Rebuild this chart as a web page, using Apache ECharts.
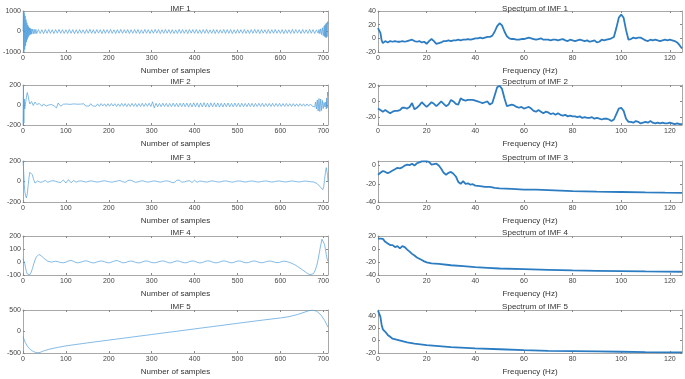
<!DOCTYPE html>
<html>
<head>
<meta charset="utf-8">
<script src="https://cdn.jsdelivr.net/npm/echarts@6/dist/echarts.min.js"></script>
<style>
  html, body { margin: 0; padding: 0; background: #fff; }
  #chart { width: 685px; height: 379px; }
</style>
</head>
<body>
<div id="chart"></div>
<script>
// ---- data ----
// left column: IMF signals (sample index, amplitude)
var imf1Head = [[0,0],[1,950],[2,-1000],[3,920],[4,-880],[5,760],[6,-700],[7,580],[8,-520],[9,430],[10,-390],[11,320],[12,-290],[13,240],[14,-210],[15,180],[16,-160],[17,150],[18,-140],[19,130],[20,-125],[22,120],[24,-115],[26,110],[28,-105],[30,100],[32,-100]]
var imf1Body = [95,-100,85,-105,98,-88,102,-92,86,-100, 94,-80,100,-90,88,-96,82,-94,100,-86, 92,-104,84,-96,98,-88,80,-100,94,-84,
  104,-90,84,-98,94,-80,88,-100,98,-92, 84,-88,100,-94,80,-98,90,-84,104,-92, 88,-80,96,-100,84,-90,98,-88,94,-104,
  80,-94,100,-84,90,-98,88,-92,100,-80, 94,-104,84,-90,98,-84,92,-100,88,-94, 80,-98,104,-88,90,-92,84,-100,98,-80,
  94,-90,100,-88,84,-98,92,-84,104,-94, 80,-90,98,-100,88,-92,84,-80,100,-98, 90,-88,94,-104,84,-92,98,-84,88,-94,
  100,-90,80,-98,92,-88,104,-84,90,-100, 94,-80,84,-98,98,-92,88,-90,100,-84, 80,-94,92,-104,90,-88,84,-98,100,-92,
  94,-80,88,-100,98,-90,84,-94,104,-88, 92,-98,80,-84]
var imf1Tail = [[690,100],[692,-110],[694,130],[696,-150],[698,180],[700,-210],[702,260],[703,-240],[704,320],[705,-280],[706,380],[707,-300],[708,420],[709,-250],[710,480],[711,350]]

var imf2Head = [[0,-200],[1,200],[2,-180],[3,60],[4,-40],[6,20],[8,80],[10,125],[12,90],[14,40],[16,10],[18,25],[20,35],[22,15],[24,-5],[26,10],[28,30],[30,25],[32,5],[34,-10],[36,0],[38,15],[40,12],[42,-5],[44,-12],[46,0],[48,10],[50,5],[52,-8],[54,-10],[56,2],[58,8],[60,0],[62,-8],[64,-5],[66,5],[68,8],[70,0],[72,-6],[74,-8],[76,-15],[78,-30],[80,-10],[82,20],[84,25],[86,5],[88,-12],[90,-5]]
var imf2Body = [8,-6,10,-8,6,-9,11,-6,8,-10, 9,-8,12,-10,8,-11,13,-9,10,-12, 11,-13,14,-10,12,-14,13,-12,15,-11,
  13,-15,12,-14,16,-13,14,-16,13,-15, 16,-14,15,-17,14,-16,17,-15,16,-14, 18,-16,32,-28,17,-18,16,-17,18,-16,
  17,-18,16,-17,19,-16,17,-19,18,-17, 20,-18,19,-21,18,-20,22,-19,21,-22, 21,-20,23,-21,20,-22,21,-20,22,-19,
  20,-21,18,-20,19,-18,20,-19,17,-18, 19,-17,18,-19,17,-18,16,-17,18,-16, 17,-18,16,-15,17,-16,18,-17,15,-16,
  16,-15,17,-16,15,-14,16,-15,14,-15, 15,-14,13,-15,14,-13,12,-14,13,-12, 12,-13,11,-12,10,-11,9]
var imf2Tail = [[680,-20],[682,30],[684,-40],[686,50],[688,-60],[690,65],[692,-65],[694,60],[696,-55],[698,45],[700,-35],[702,25],[704,-20],[706,30],[707,-40],[708,70],[709,-30],[710,130],[711,90]]

var imf3Head = [[0,200],[1,150],[2,60],[3,-30],[4,-90],[6,-140],[8,-160],[10,-120],[12,-40],[14,40],[16,90],[18,105],[20,95],[22,65],[24,30],[26,5],[28,-15],[30,-20],[32,-10],[34,5],[36,12],[38,5],[40,-8],[43,-12],[46,-2],[49,8],[52,10],[55,2],[58,-8],[61,-6]]
var imf3Body = [4,8,2,-6,-10,15,-15,18,-12,10, -6,4,6,-2,-5,3,6,0,-5,-3, 4,7,2,-4,-6,0,5,10,-2,-8,
  8,14,4,-8,-4,5,6,-2,-6,0, 5,4,-3,-6,2,6,3,-8,-12,10, 14,-6,-4,4,8,-10,12,-8,4,2,
  -4,-5,3,6,1,-5,-4,3,6,2, -4,-6,2,5,4,-3,-5,1,5,3, -3,-5,0,4,5,-2,-5,-2,4,5, 0,-4,-3,3,5,1,-3,-4,2,4, 2,-2]
var imf3Tail = [[674,0],[678,-5],[682,-12],[686,-22],[690,-38],[694,-58],[697,-75],[699,-80],[701,-50],[703,20],[705,90],[707,135],[708,145],[709,120],[710,60],[711,0]]

var imf4Head = [[0,25],[2,20],[4,-10],[6,-45],[8,-75],[10,-92],[13,-100],[16,-98],[19,-80],[22,-50],[25,-15],[28,15],[31,38],[34,52],[37,58],[40,55],[43,47],[46,36],[50,24],[54,14],[58,6],[62,1],[66,-1]]
var imf4Body = [2,6,2,-4,-6,-1,8,12,5,-5, -6,0,7,9,2,-5,-7,0,6,8, 2,-5,-6,1,9,11,3,-6,-5,2, 7,6,-2,-7,-5,3,8,6,-2,-6,
  -5,2,7,8,1,-6,-6,2,8,7, -1,-6,-5,3,8,6,-2,-7,-4,4, 9,7,-1,-6,-5,2,8,7,0,-6, -5,3,8,6,-2,-6,-4,4,8,5,
  -2,-6,-3,4,7,5,-1,-5,-3,4, 6]
var imf4Tail = [[616,2],[622,-4],[628,-12],[634,-22],[640,-34],[646,-48],[652,-62],[658,-76],[664,-90],[669,-98],[673,-100],[677,-90],[681,-65],[685,-25],[688,20],[691,75],[694,130],[697,175],[699,185],[701,170],[703,135],[705,95],[707,55],[709,25],[711,5]]

var imf5 = [[0,-120],[5,-250],[10,-340],[15,-400],[20,-440],[25,-470],[30,-488],[35,-495],[40,-485],[45,-465],[50,-445],[60,-415],[70,-392],[80,-372],[100,-335],[150,-265],[200,-200],[250,-135],[300,-70],[350,-5],[400,60],[450,125],[500,190],[550,255],[600,315],[620,345],[640,395],[655,445],[665,480],[675,500],[685,470],[695,380],[703,260],[711,100]]

// body sampling grid: first sample and spacing
var bodyStart = [36, 94, 64, 70]
var bodyStep = [4, 4, 6, 6]

// right column: spectra (Hz, dB)
var spec1 = [[0,15],[0.5,14],[1,8],[1.5,-3],[2,-7],[3,-4],[4,-6],[5,-4],[6,-5],[7,-4],[8,-5],[9,-5],[10,-4],[11,-5],[12,-4],[13,-3],[14,-2],[15,-4],[16,-5],[17,-4],[18,-6],[19,-5],[20,-8],[21,-4],[22,-1],[23,-4],[24,-8],[25,-7],[26,-6],[27,-4],[28,-4],[29,-3],[30,-4],[31,-3],[32,-3],[33,-2],[34,-3],[35,-2],[36,-2],[37,-1],[38,-2],[39,-1],[40,0],[41,0],[42,1],[43,0],[44,1],[45,2],[46,2],[47,4],[48,10],[49,18],[50,22],[51,19],[52,10],[53,3],[54,0],[55,-1],[56,-1],[57,-2],[58,-2],[59,-1],[60,-1],[61,0],[62,1],[63,0],[64,-1],[65,-2],[66,-1],[67,0],[68,-2],[69,-2],[70,-2],[71,-3],[72,-2],[73,-2],[74,-3],[75,-2],[76,-1],[77,-3],[78,-4],[79,-2],[80,-3],[81,-4],[82,-3],[83,-2],[84,-3],[85,-4],[86,-3],[87,-5],[88,-4],[89,-3],[90,-6],[91,-5],[92,-2],[93,-3],[94,-2],[95,-1],[96,0],[97,2],[98,15],[99,30],[100,35],[101,30],[102,12],[103,-2],[104,-1],[105,1],[106,0],[107,1],[108,1],[109,-1],[110,-3],[111,-4],[112,-2],[113,-3],[114,-2],[115,-3],[116,-4],[117,-3],[118,-2],[119,-3],[120,-2],[121,-3],[122,-4],[123,-6],[124,-10],[125,-15]]
var spec2 = [[0,-9],[1,-11],[2,-13],[3,-11],[4,-13],[5,-15],[6,-13],[7,-12],[8,-12],[9,-11],[10,-8],[11,-8],[12,-9],[13,-7],[14,-2],[15,-10],[16,-8],[17,-5],[18,-1],[19,-4],[20,-7],[21,-4],[22,-1],[23,-3],[24,-6],[25,-3],[26,0],[27,-3],[28,-6],[29,-4],[30,2],[31,0],[32,-3],[33,-4],[34,4],[35,2],[36,1],[37,2],[38,2],[39,2],[40,1],[41,0],[42,-1],[43,-2],[44,-1],[45,0],[46,-4],[47,-2],[48,8],[49,18],[50,20],[51,16],[52,4],[53,-6],[54,-5],[55,-4],[56,-5],[57,-7],[58,-8],[59,-7],[60,-9],[61,-8],[62,-7],[63,-9],[64,-12],[65,-13],[66,-11],[67,-13],[68,-15],[69,-13],[70,-14],[71,-16],[72,-15],[73,-17],[74,-15],[75,-17],[76,-18],[77,-17],[78,-19],[79,-18],[80,-19],[81,-19],[82,-20],[83,-19],[84,-21],[85,-20],[86,-21],[87,-21],[88,-20],[89,-22],[90,-21],[91,-22],[92,-23],[93,-22],[94,-22],[95,-23],[96,-25],[97,-23],[98,-16],[99,-9],[100,-8],[101,-12],[102,-22],[103,-26],[104,-26],[105,-27],[106,-25],[107,-26],[108,-28],[109,-27],[110,-26],[111,-27],[112,-25],[113,-27],[114,-28],[115,-27],[116,-28],[117,-27],[118,-28],[119,-28],[120,-27],[121,-28],[122,-29],[123,-28],[124,-29],[125,-29]]
var spec3 = [[0,-10],[1,-8],[2,-6],[3,-7],[4,-8.5],[5,-7],[6,-5.5],[7,-4],[8,-2.5],[9,-3],[10,-2],[11,0],[12,1],[13,0.5],[14,2],[15,0],[16,2.5],[17,3.5],[18,4.5],[19,4.5],[20,4.5],[21,4],[22,1],[23,1.5],[24,2],[25,0],[26,-3.5],[27,-8],[28,-10],[29,-8],[30,-7],[31,-9],[32,-12],[33,-18],[34,-20],[35,-17],[36,-20],[37,-19.5],[38,-21],[39,-20.5],[40,-22],[42,-22.5],[44,-23.5],[46,-23.5],[48,-24.5],[50,-25],[55,-25.5],[60,-26.5],[65,-26.5],[70,-27],[75,-27.5],[80,-28],[85,-28.3],[90,-28.7],[95,-28.8],[100,-29],[110,-29.5],[118,-29.8],[125,-30]]
var spec4 = [[0,16],[1,16],[2,15.5],[3,11],[4,8.5],[5,6],[6,6],[7,3],[8,4.5],[9,1],[10,4.5],[11,3],[12,-1],[13,-4],[14,-7.5],[15,-10],[16,-13],[17,-15],[18,-17],[19,-19],[20,-20.5],[22,-22],[25,-23],[30,-25],[35,-26.5],[40,-28],[45,-29],[50,-30],[60,-31],[70,-32],[80,-33],[90,-33.5],[100,-34],[110,-34.5],[125,-35]]
var spec5 = [[0,48],[0.5,46],[1,38],[1.5,25],[2,18],[3,14],[4,9],[5,6],[6,3],[8,1],[10,-1],[12,-3],[15,-5],[20,-7.5],[25,-9],[30,-10.5],[40,-12.5],[50,-14],[60,-15.5],[70,-16.5],[80,-17],[90,-17.5],[100,-18],[110,-18.5],[125,-19]]

// axis ranges and tick labels
var sampleTicks = [0, 100, 200, 300, 400, 500, 600, 700]
var freqTicks = [0, 20, 40, 60, 80, 100, 120]
var imfRange = [[-1000, 1000], [-200, 200], [-200, 200], [-100, 200], [-500, 500]]
var imfTicks = [[-1000, 0, 1000], [-200, 0, 200], [-200, 0, 200], [-100, 0, 100, 200], [-500, 0, 500]]
var specRange = [[-20, 40], [-30, 21], [-40, 5], [-40, 20], [-20, 49]]
var specTicks = [[-20, 0, 20, 40], [-20, 0, 20], [-40, -20, 0], [-40, -20, 0, 20], [-20, 0, 20, 40]]

var imfTitles = ['IMF 1', 'IMF 2', 'IMF 3', 'IMF 4', 'IMF 5']
var specTitles = ['Spectrum of IMF 1', 'Spectrum of IMF 2', 'Spectrum of IMF 3', 'Spectrum of IMF 4', 'Spectrum of IMF 5']

// ---- build ----
function buildImf(head, body, tail, start, step) {
  var out = head.slice()
  for (var k = 0; k < body.length; k++) out.push([start + step * k, body[k]])
  return out.concat(tail)
}
var imfData = [
  buildImf(imf1Head, imf1Body, imf1Tail, bodyStart[0], bodyStep[0]),
  buildImf(imf2Head, imf2Body, imf2Tail, bodyStart[1], bodyStep[1]),
  buildImf(imf3Head, imf3Body, imf3Tail, bodyStart[2], bodyStep[2]),
  buildImf(imf4Head, imf4Body, imf4Tail, bodyStart[3], bodyStep[3]),
  imf5
]
var specData = [spec1, spec2, spec3, spec4, spec5]

var colLeft = [23, 378], colWidth = [305, 304]
var rowTop = [11, 85, 161, 236, 310], rowHeight = [41, 40, 41, 39, 43]
var FONT = 'Liberation Sans, Arial, sans-serif'
var boxColor = '#a8a8a8', textColor = '#454545'
var plain = function (v) { return String(v) }

var grids = [], xAxes = [], yAxes = [], series = [], titles = []

function addPanel(col, row, xMax, xTicks, xName, yR, yT, data, title, lineColor, lineWidth) {
  var gi = grids.length
  grids.push({ left: colLeft[col], top: rowTop[row], width: colWidth[col], height: rowHeight[row] })
  titles.push({
    text: title, left: colLeft[col] + colWidth[col] / 2, top: Math.max(0, rowTop[row] - 12), textAlign: 'center',
    textStyle: { fontSize: 8, fontWeight: 'normal', color: '#333', fontFamily: FONT }
  })
  var line = { show: true, onZero: false, lineStyle: { color: boxColor, width: 1 } }
  var tick = function (vals) { return { show: true, inside: true, length: 2, customValues: vals, lineStyle: { color: '#888' } } }
  xAxes.push({
    gridIndex: gi, type: 'value', position: 'bottom', min: 0, max: xMax,
    axisLine: line, axisTick: tick(xTicks), splitLine: { show: false },
    axisLabel: { fontSize: 7, margin: 3, color: textColor, fontFamily: FONT, customValues: xTicks, formatter: plain },
    name: xName, nameLocation: 'middle', nameGap: 15,
    nameTextStyle: { fontSize: 8, color: '#333', fontFamily: FONT }
  })
  xAxes.push({
    gridIndex: gi, type: 'value', position: 'top', min: 0, max: xMax,
    axisLine: line, axisTick: tick(xTicks), axisLabel: { show: false }, splitLine: { show: false }
  })
  yAxes.push({
    gridIndex: gi, type: 'value', position: 'left', min: yR[0], max: yR[1],
    axisLine: line, axisTick: tick(yT), splitLine: { show: false },
    axisLabel: { fontSize: 7, margin: 2, color: textColor, fontFamily: FONT, customValues: yT, formatter: plain }
  })
  yAxes.push({
    gridIndex: gi, type: 'value', position: 'right', min: yR[0], max: yR[1],
    axisLine: line, axisTick: tick(yT), axisLabel: { show: false }, splitLine: { show: false }
  })
  series.push({
    type: 'line', xAxisIndex: gi * 2, yAxisIndex: gi * 2, data: data,
    showSymbol: false, symbol: 'none', clip: true,
    lineStyle: { color: lineColor, width: lineWidth }
  })
}

for (var r = 0; r < 5; r++) {
  addPanel(0, r, 711, sampleTicks, 'Number of samples', imfRange[r], imfTicks[r], imfData[r], imfTitles[r], '#4f9ddb', 0.7)
  addPanel(1, r, 125, freqTicks, 'Frequency (Hz)', specRange[r], specTicks[r], specData[r], specTitles[r], '#2c7cc2', 1.8)
}

var chart = echarts.init(document.getElementById('chart'))
chart.setOption({
  animation: false,
  backgroundColor: '#fff',
  title: titles,
  grid: grids,
  xAxis: xAxes,
  yAxis: yAxes,
  series: series
})
</script>
</body>
</html>
